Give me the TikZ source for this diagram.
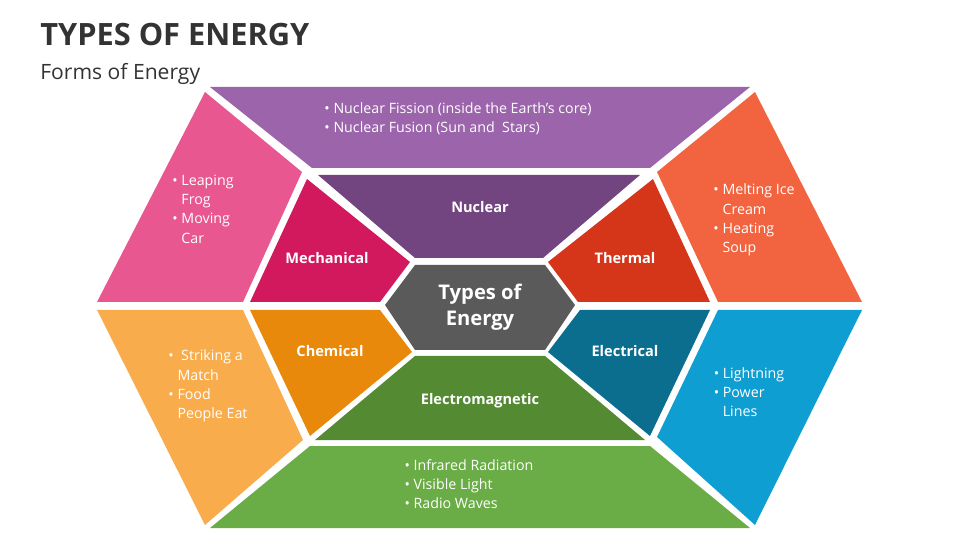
\documentclass[tikz,border=0pt]{standalone}
\usepackage{fontspec}
\setmainfont{Open Sans}
\definecolor{purpleout}{HTML}{9B64AB}
\definecolor{purplein}{HTML}{724480}
\definecolor{pinkout}{HTML}{E8578F}
\definecolor{pinkin}{HTML}{D2195E}
\definecolor{redout}{HTML}{F26440}
\definecolor{redin}{HTML}{D53619}
\definecolor{yellowout}{HTML}{F9AC4B}
\definecolor{yellowin}{HTML}{E8890C}
\definecolor{blueout}{HTML}{0E9ED2}
\definecolor{bluein}{HTML}{0B6E8F}
\definecolor{greenout}{HTML}{6AAC45}
\definecolor{greenin}{HTML}{548A32}
\definecolor{hexgray}{HTML}{5A5A5A}
\definecolor{titlegray}{HTML}{333333}
\tikzset{
  label/.style={text=white, font=\bfseries\fontsize{8.3}{10}\selectfont, align=center},
  points/.style={text=white, font=\fontsize{8.1}{11}\selectfont, align=left},
}
\newcommand{\bul}{\textbullet\ }
\begin{document}
\begin{tikzpicture}[x=0.02cm, y=-0.02cm]
    \useasboundingbox (0,0) rectangle (960,540);

    % outer ring
    \fill[purpleout] (210,87) -- (750,87) -- (650,168) -- (312,168) -- cycle;
    \fill[pinkout] (205,92) -- (302,172) -- (243,302) -- (97,302) -- cycle;
    \fill[redout] (755,92) -- (862,302) -- (718,302) -- (657,172) -- cycle;
    \fill[yellowout] (97,310) -- (243,310) -- (303,440) -- (205,525) -- cycle;
    \fill[blueout] (862,310) -- (718,310) -- (657,437) -- (755,525) -- cycle;
    \fill[greenout] (310,446) -- (650,446) -- (750,528) -- (210,528) -- cycle;

    % inner ring
    \fill[purplein] (318,175) -- (640,175) -- (543,258) -- (415,258) -- cycle;
    \fill[pinkin] (307,179) -- (410,262) -- (380,302) -- (250,302) -- cycle;
    \fill[redin] (653,179) -- (548,262) -- (578,302) -- (710,302) -- cycle;
    \fill[yellowin] (250,310) -- (380,310) -- (412,352) -- (310,436) -- cycle;
    \fill[bluein] (580,310) -- (710,310) -- (650,436) -- (548,352) -- cycle;
    \fill[greenin] (415,356) -- (545,356) -- (645,440) -- (315,440) -- cycle;

    % centre
    \fill[hexgray] (385,305) -- (415,265) -- (545,265) -- (575,305) -- (545,350) -- (415,350) -- cycle;
    \node[text=white, font=\bfseries\fontsize{11.5}{14.5}\selectfont, align=center] (centre) at (480,307) {Types of\\Energy};

    % titles
    \node[anchor=west, inner sep=0pt, text=titlegray, font=\bfseries\fontsize{17.5}{20}\selectfont] (title) at (40,35) {TYPES OF ENERGY};
    \node[anchor=west, inner sep=0pt, text=titlegray, font=\fontsize{12}{14}\selectfont] (subtitle) at (40,74) {Forms of Energy};

    % labels
    \node[label] (nuclear) at (480,207) {Nuclear};
    \node[label] (mechanical) at (327,258) {Mechanical};
    \node[label] (thermal) at (625,258) {Thermal};
    \node[label] (chemical) at (330,351) {Chemical};
    \node[label] (electrical) at (625,351) {Electrical};
    \node[label] (electromagnetic) at (480,401) {Electromagnetic};

    % details
    \node[points] (nucleartext) at (458,119) {\bul Nuclear Fission (inside the Earth’s core)\\\bul Nuclear Fusion (Sun and\ \ Stars)};
    \node[points] (mechtext) at (203,209) {\bul Leaping\\\phantom{\bul}Frog\\\bul Moving\\\phantom{\bul}Car};
    \node[points] (thermaltext) at (754,220) {\bul Melting Ice\\\phantom{\bul}Cream\\\bul Heating\\\phantom{\bul}Soup};
    \node[points] (chemtext) at (208,386) {\bul\ Striking a\\\phantom{\bul}Match\\\bul Food\\\phantom{\bul}People Eat};
    \node[points] (electext) at (749,392) {\bul Lightning\\\bul Power\\\phantom{\bul}Lines};
    \node[points] (emtext) at (469,484) {\bul Infrared Radiation\\\bul Visible Light\\\bul Radio Waves};
\end{tikzpicture}
\end{document}
